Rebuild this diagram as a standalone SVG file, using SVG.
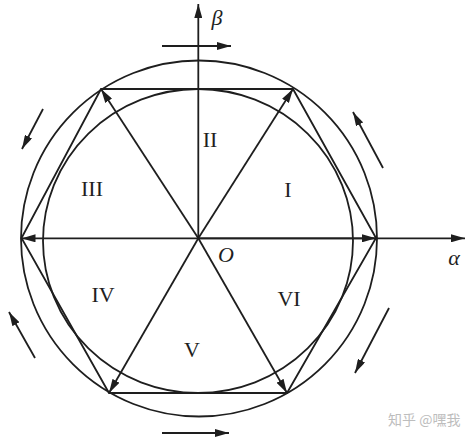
<svg xmlns="http://www.w3.org/2000/svg" width="474" height="439" viewBox="0 0 474 439">
<style>
.ln{fill:none;stroke:#1e1e1e;stroke-width:1.8}
.ar{fill:none;stroke:#1e1e1e;stroke-width:1.8;marker-end:url(#ah)}
.num{font-family:"Liberation Serif","DejaVu Serif",serif;font-size:22px;fill:#1e1e1e;text-anchor:middle}
.it{font-family:"Liberation Serif","DejaVu Serif",serif;font-style:italic;font-size:22px;fill:#1e1e1e;text-anchor:middle}
.wm{font-family:"Noto Sans CJK SC","Noto Sans",sans-serif;font-size:14px;fill:#bdbdbd}
</style>
<defs>
<marker id="ah" viewBox="0 0 14 8" refX="14" refY="4" markerWidth="14" markerHeight="8" markerUnits="userSpaceOnUse" orient="auto">
<path d="M0,0 L14,4 L0,8 z" fill="#1e1e1e"/>
</marker>
</defs>
<rect width="474" height="439" fill="#fff"/>
<g id="circles">
<circle id="outer-circle" class="ln" cx="199" cy="238.5" r="178"/>
<ellipse id="inner-circle" class="ln" cx="198" cy="241" rx="155" ry="152"/>
</g>
<g id="hexagon">
<polygon class="ln" points="376,238 293,89 101,89 21.5,238 109,393 287,393"/>
</g>
<g id="connectors">
<line class="ar" x1="198.3" y1="238.3" x2="198.3" y2="4"/>
<line class="ar" x1="198.3" y1="238.3" x2="465" y2="238.3"/>
<line class="ar" x1="198.3" y1="238.3" x2="376" y2="238.3"/>
<line class="ar" x1="198.3" y1="238.3" x2="293" y2="89"/>
<line class="ar" x1="198.3" y1="238.3" x2="101" y2="89"/>
<line class="ar" x1="198.3" y1="238.3" x2="21.5" y2="238.3"/>
<line class="ar" x1="198.3" y1="238.3" x2="109" y2="393"/>
<line class="ar" x1="198.3" y1="238.3" x2="287" y2="393"/>
</g>
<g id="rotation-arrows">
<line class="ar" x1="162" y1="46" x2="231" y2="46"/>
<line class="ar" x1="162" y1="433" x2="229" y2="433"/>
<line class="ar" x1="43" y1="109" x2="22" y2="149"/>
<line class="ar" x1="383" y1="168" x2="353" y2="112"/>
<line class="ar" x1="35" y1="358" x2="9" y2="312"/>
<line class="ar" x1="389" y1="308" x2="355" y2="373"/>
</g>
<g id="labels">
<text class="it" x="217" y="25">β</text>
<text class="it" x="454" y="265">α</text>
<text class="it" x="226" y="262">O</text>
<text id="sector-II" class="num" x="210" y="147">II</text>
<text id="sector-III" class="num" x="92" y="196">III</text>
<text id="sector-I" class="num" x="288" y="197">I</text>
<text id="sector-IV" class="num" x="103" y="302">IV</text>
<text id="sector-VI" class="num" x="289" y="306">VI</text>
<text id="sector-V" class="num" x="192" y="357">V</text>
</g>
<text class="wm" x="388" y="425">知乎 @嘿我</text>
</svg>
